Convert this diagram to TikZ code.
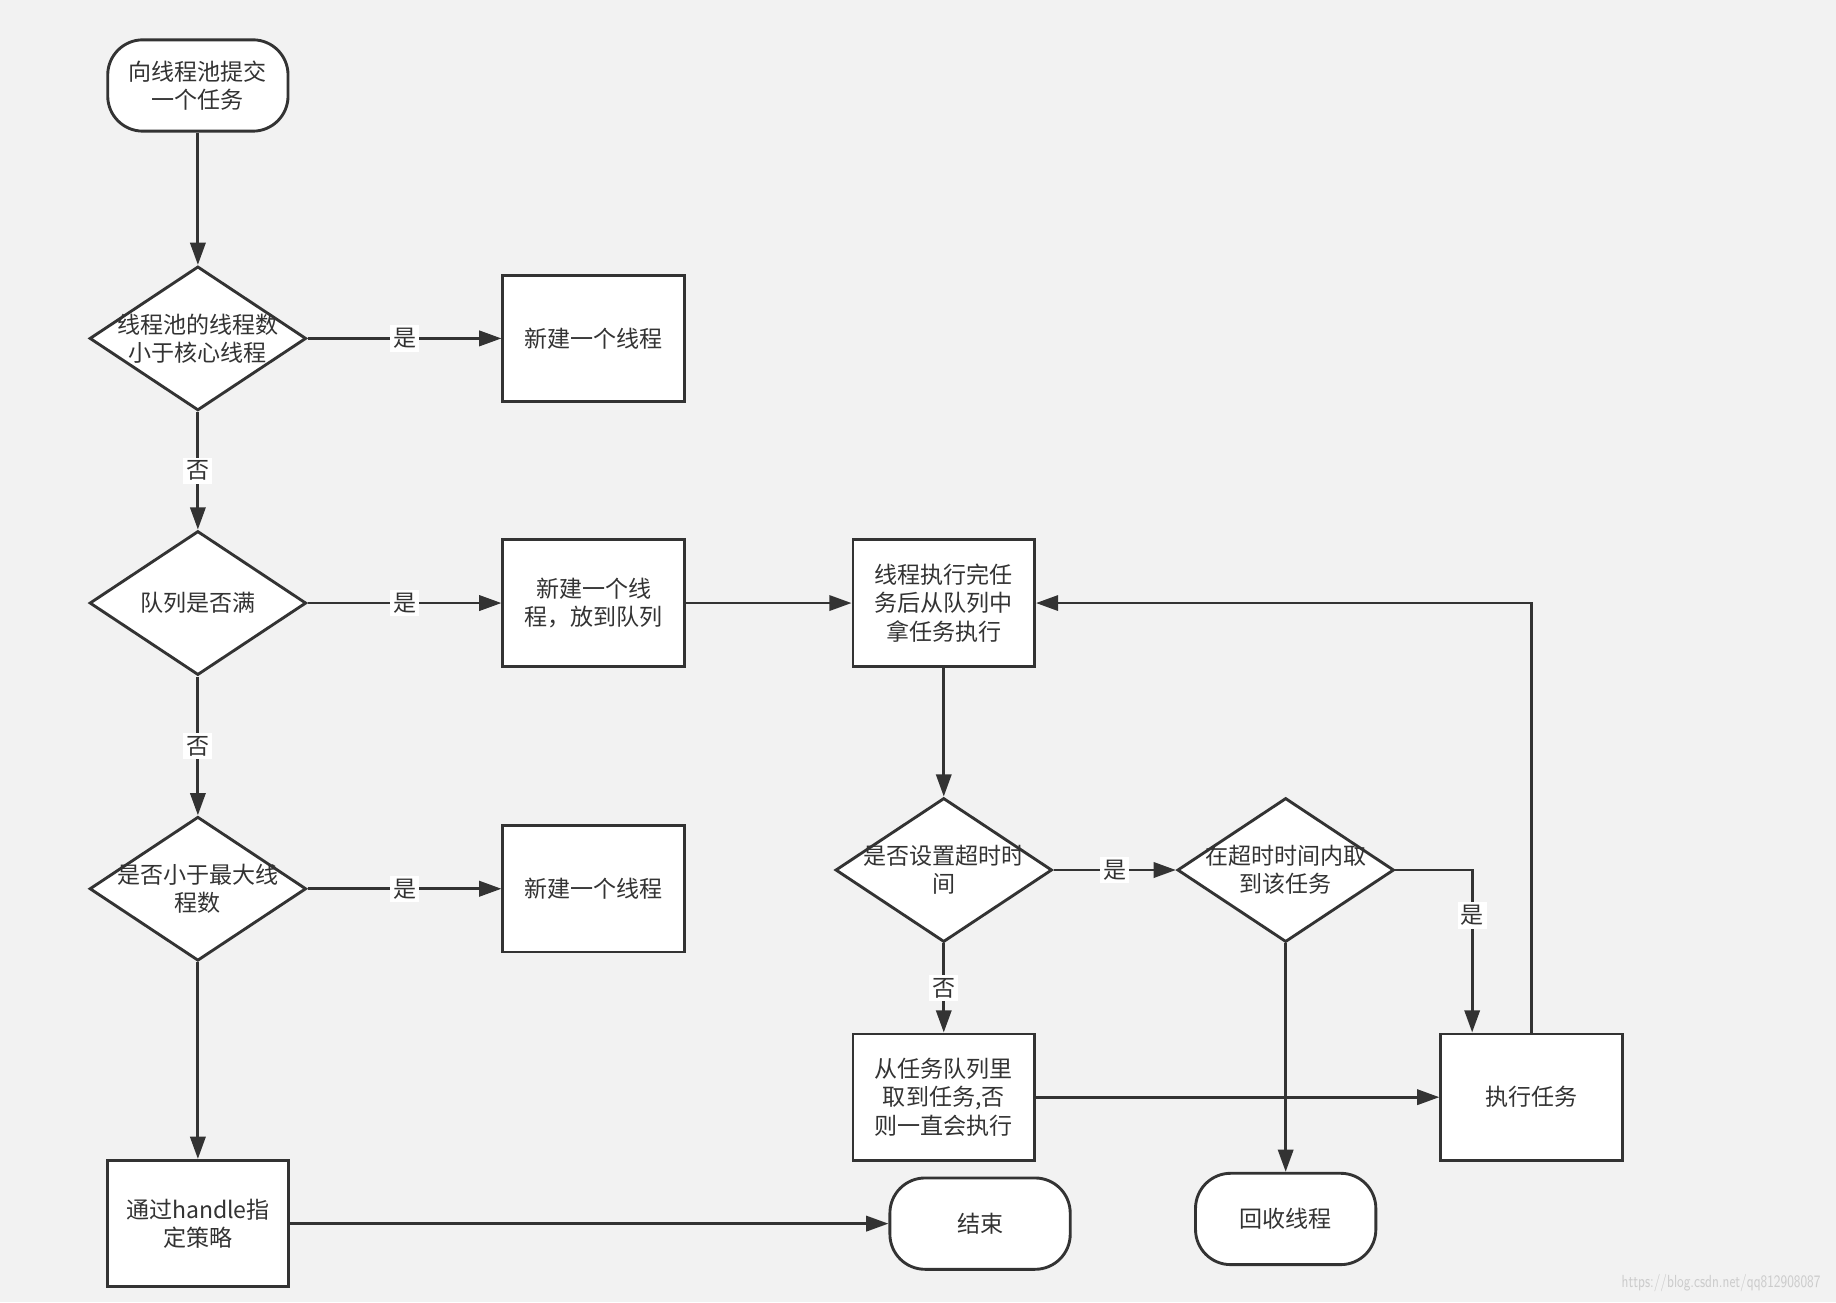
\documentclass[tikz,border=0pt]{standalone}
\usepackage{fontspec}
\newfontfamily\cjk{Noto Sans CJK SC}
\usepackage{tikz}
\usetikzlibrary{arrows.meta,shapes.geometric}
\definecolor{cline}{HTML}{333333}
\definecolor{cbg}{HTML}{F2F2F2}

\begin{document}
\begin{tikzpicture}[>={Triangle[length=0.38cm,width=0.26cm]},line width=1.4pt,color=cline,
  node distance=6.76cm,font=\cjk\fontsize{11.2}{13.8}\selectfont,
  term node/.style={rectangle,rounded corners=0.6cm,draw,fill=white,align=center,
    minimum width=3.08cm,minimum height=1.56cm},
  proc node/.style={rectangle,draw,fill=white,align=center,
    minimum width=3.1cm,minimum height=2.16cm},
  cond node/.style={diamond,aspect=1.5,draw,fill=white,align=center,inner sep=-4pt,
    minimum width=3.7cm,minimum height=2.46cm},
  lbl/.style={fill=white,inner sep=1.5pt}]
  \fill[cbg] (0,0) rectangle (31.36,-22.24);
  \useasboundingbox (0,0) rectangle (31.36,-22.24);

  % left column
  \node[term node] (start) at (3.38,-1.46) {向线程池提交\\一个任务};
  \node[cond node] (d1) [below of=start,node distance=4.32cm] {线程池的线程数\\小于核心线程};
  \node[proc node] (b1) [right of=d1] {新建一个线程};
  \node[cond node] (d2) [below of=d1,node distance=4.52cm] {队列是否满};
  \node[proc node] (b2) [right of=d2] {新建一个线\\程，放到队列};
  \node[proc node] (b3) [right of=b2,node distance=5.98cm] {线程执行完任\\务后从队列中\\拿任务执行};
  \node[cond node] (d3) [below of=d2,node distance=4.88cm] {是否小于最大线\\程数};
  \node[proc node] (b4) [right of=d3] {新建一个线程};
  \node[proc node] (b5) [below of=d3,node distance=5.72cm] {通过handle指\\定策略};
  \node[term node] (end) [right of=b5,node distance=13.36cm] {结束};

  % right part
  \node[cond node] (d4) [below of=b3,node distance=4.56cm] {是否设置超时时\\间};
  \node[cond node] (d5) [right of=d4,node distance=5.84cm] {在超时时间内取\\到该任务};
  \node[proc node] (b6) [below of=d4,node distance=3.88cm] {从任务队列里\\取到任务,否\\则一直会执行};
  \node[proc node] (b7) [right of=b6,node distance=10.04cm] {执行任务};
  \node[term node] (rec) [below of=d5,node distance=5.96cm] {回收线程};
  \coordinate (b7in) at ([xshift=0.56cm]b7.north west);

  \path[->,every node/.style={lbl}]
    (start) edge (d1)
    (d1) edge node {是} (b1)
    (d1) edge node {否} (d2)
    (d2) edge node {是} (b2)
    (b2) edge (b3)
    (d2) edge node {否} (d3)
    (d3) edge node {是} (b4)
    (d3) edge (b5)
    (b5) edge (end)
    (b3) edge (d4)
    (d4) edge node {是} (d5)
    (d4) edge node {否} (b6)
    (d5) edge (rec)
    (b6) edge (b7);
  \draw[->] (d5.east) -| node[lbl,pos=0.64] {是} (b7in);
  \draw[->] (b7.north) |- (b3.east);

  \node[text=gray!40,font=\sffamily\fontsize{8.5}{9}\selectfont,anchor=east,xscale=0.74,transform shape]
    (mark) at (31.2,-21.92) {https://blog.csdn.net/qq812908087};
\end{tikzpicture}
\end{document}
